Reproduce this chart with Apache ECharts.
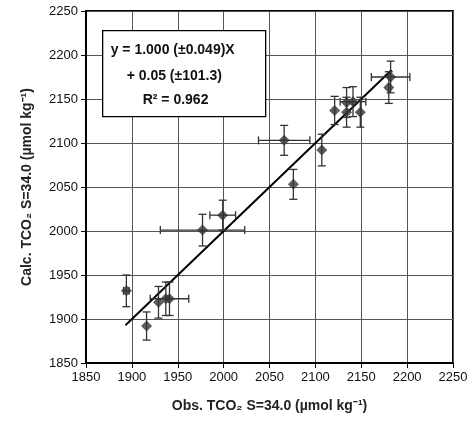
<!DOCTYPE html>
<html>
<head>
<meta charset="utf-8">
<script src="https://cdn.jsdelivr.net/npm/echarts@6/dist/echarts.min.js"></script>
<style>html,body{margin:0;padding:0;background:#fff}#chart{width:474px;height:434px}</style>
</head>
<body>
<div id="chart"></div>
<script>
// observed, calculated, x error, y error
let obsX = [1894, 1916, 1929, 1937, 1941, 1977, 1999, 2066, 2076, 2107, 2182, 2180, 2134, 2141, 2121, 2134, 2149];
let calcY = [1932, 1892, 1919, 1923, 1923, 2001, 2018, 2103, 2053, 2092, 2175, 2163, 2146, 2147, 2137, 2135, 2135];
let errX = [3, 0, 0, 0, 21, 46, 14, 28, 0, 0, 21, 0, 0, 14, 0, 0, 0];
let errY = [18, 16, 18, 19, 19, 18, 17, 17, 17, 18, 18, 18, 17, 17, 16, 17, 17];
let fitLine = [[1893, 1893], [2183, 2183]];

let points = obsX.map((x, i) => [x, calcY[i]]);
let bars = obsX.map((x, i) => [x, calcY[i], errX[i], errY[i]]);

function renderErr(params, api) {
    let x = api.value(0), y = api.value(1), ex = api.value(2), ey = api.value(3);
    let c = 4;
    let kids = [];
    let st = {stroke: '#333', lineWidth: 1.3};
    if (ey > 0) {
        let a = api.coord([x, y + ey]), b = api.coord([x, y - ey]);
        kids.push({type: 'line', shape: {x1: a[0], y1: a[1], x2: b[0], y2: b[1]}, style: st});
        kids.push({type: 'line', shape: {x1: a[0] - c, y1: a[1], x2: a[0] + c, y2: a[1]}, style: st});
        kids.push({type: 'line', shape: {x1: b[0] - c, y1: b[1], x2: b[0] + c, y2: b[1]}, style: st});
    }
    if (ex > 0) {
        let a = api.coord([x - ex, y]), b = api.coord([x + ex, y]);
        kids.push({type: 'line', shape: {x1: a[0], y1: a[1], x2: b[0], y2: b[1]}, style: st});
        kids.push({type: 'line', shape: {x1: a[0], y1: a[1] - c, x2: a[0], y2: a[1] + c}, style: st});
        kids.push({type: 'line', shape: {x1: b[0], y1: b[1] - c, x2: b[0], y2: b[1] + c}, style: st});
    }
    return {type: 'group', children: kids};
}

let myChart = echarts.init(document.getElementById('chart'));
let axisFont = {fontFamily: 'Liberation Sans', fontSize: 13, color: '#111', formatter: v => String(v)};
let option = {
    animation: false,
    grid: {left: 86, right: 21, top: 11, bottom: 71, show: true, borderColor: '#000', borderWidth: 2},
    xAxis: {
        type: 'value', min: 1850, max: 2250, interval: 50,
        name: 'Obs. TCO₂ S=34.0 (µmol kg⁻¹)', nameLocation: 'middle', nameGap: 36,
        nameTextStyle: {fontFamily: 'Liberation Sans', fontSize: 14, fontWeight: 'bold', color: '#222'},
        axisLine: {show: true, lineStyle: {color: '#000', width: 2}},
        axisTick: {show: true, inside: false, lineStyle: {color: '#000'}},
        axisLabel: axisFont,
        splitLine: {show: true, lineStyle: {color: '#555', width: 1}}
    },
    yAxis: {
        type: 'value', min: 1850, max: 2250, interval: 50,
        name: 'Calc. TCO₂ S=34.0 (µmol kg⁻¹)', nameLocation: 'middle', nameGap: 52,
        nameTextStyle: {fontFamily: 'Liberation Sans', fontSize: 14, fontWeight: 'bold', color: '#222'},
        axisLine: {show: true, lineStyle: {color: '#000', width: 2}},
        axisTick: {show: true, lineStyle: {color: '#000'}},
        axisLabel: axisFont,
        splitLine: {show: true, lineStyle: {color: '#555', width: 1}}
    },
    graphic: [{
        type: 'group', left: 102, top: 30, z: 100,
        children: [
            {type: 'rect', z: 100, shape: {x: 0, y: 0, width: 163, height: 86}, style: {fill: '#fff', stroke: '#000', lineWidth: 1.3}},
            {type: 'text', z: 101, style: {x: 8, y: 12, text: 'y = 1.000 (±0.049)X', font: 'bold 14px Liberation Sans', fill: '#111'}},
            {type: 'text', z: 101, style: {x: 24, y: 38, text: '+ 0.05 (±101.3)', font: 'bold 14px Liberation Sans', fill: '#111'}},
            {type: 'text', z: 101, style: {x: 40, y: 62, text: 'R² = 0.962', font: 'bold 14px Liberation Sans', fill: '#111'}}
        ]
    }],
    series: [
        {type: 'line', data: fitLine, symbol: 'none', lineStyle: {color: '#000', width: 2}, z: 3},
        {type: 'custom', renderItem: renderErr, data: bars, z: 4},
        {type: 'scatter', data: points, symbol: 'diamond', symbolSize: 11, itemStyle: {color: '#333'}, z: 5}
    ]
};
myChart.setOption(option);
</script>
</body>
</html>
